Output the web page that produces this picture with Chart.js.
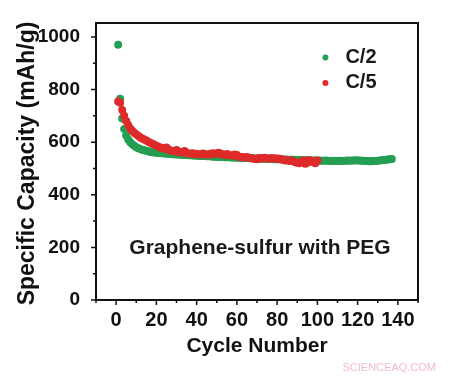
<!DOCTYPE html>
<html>
<head>
<meta charset="utf-8">
<script src="https://cdn.jsdelivr.net/npm/chart.js@4"></script>
<style>
  html, body { margin: 0; padding: 0; background: #fff; }
  #wrap { width: 452px; height: 377px; position: relative; }
</style>
</head>
<body>
<div id="wrap"><canvas id="capacity_chart"></canvas></div>
<script>
// capacity (mAh/g) per cycle, cycle 1 first
const c2_values = [
  970, 765, 690, 650, 625, 610, 600, 592, 586, 581,
  577, 574, 571, 569, 567, 565, 563, 562, 561, 560,
  559, 558, 558, 557, 556, 556, 555, 554, 554, 553,
  553, 552, 552, 551, 551, 550, 550, 549, 549, 548,
  548, 547, 547, 547, 546, 546, 546, 545, 545, 545,
  544, 544, 544, 543, 543, 543, 542, 542, 542, 541,
  541, 541, 540, 540, 540, 539, 539, 539, 538, 538,
  538, 537, 537, 537, 536, 536, 536, 535, 535, 535,
  535, 534, 534, 534, 533, 533, 533, 533, 532, 532,
  532, 532, 531, 531, 531, 531, 530, 530, 530, 530,
  530, 529, 529, 530, 529, 529, 528, 529, 528, 528,
  529, 528, 528, 529, 530, 529, 530, 530, 531, 530,
  530, 529, 529, 528, 528, 527, 527, 528, 528, 529,
  530, 531, 532, 533, 534, 535, 536
];
const c5_values = [
  755, 750, 722, 700, 680, 665, 652, 643, 636, 630,
  624, 618, 614, 610, 606, 602, 598, 594, 590, 586,
  583, 580, 577, 575, 580, 572, 568, 566, 565, 570,
  564, 562, 560, 566, 560, 557, 556, 558, 555, 556,
  554, 553, 557, 555, 552, 553, 556, 558, 554, 558,
  560, 556, 553, 551, 555, 552, 549, 548, 553, 551,
  545, 544, 543, 542, 544, 541, 540, 538, 536, 535,
  540, 538, 540, 541, 538, 537, 540, 538, 539, 536,
  538, 535, 533, 530, 532, 528, 530, 527, 524, 522,
  520, 526, 530, 518, 522, 532, 528, 524, 520, 530
];
const series_names = ['C/2', 'C/5'];
const series_colors = ['rgb(36, 158, 82)', 'rgb(222, 42, 42)'];
const x_ticks = [0, 20, 40, 60, 80, 100, 120, 140];
const y_ticks = [0, 200, 400, 600, 800, 1000];
const note_text = 'Graphene-sulfur with PEG';
const x_title = 'Cycle Number';
const y_title = 'Specific Capacity (mAh/g)';

const to_points = (vals) => vals.map((v, i) => ({ x: i + 1, y: v }));

const FAMILY = '"Liberation Sans", Arial, sans-serif';
const bold = (size) => `bold ${size}px ${FAMILY}`;

// frame, outward ticks (major + minor), titles, legend, note
const decorations = {
  id: 'decorations',
  afterDraw(chart) {
    const ctx = chart.ctx;
    const area = chart.chartArea;
    const xs = chart.scales.x;
    const ys = chart.scales.y;
    ctx.save();
    ctx.strokeStyle = '#111';
    ctx.lineWidth = 2;
    ctx.strokeRect(area.left, area.top, area.right - area.left, area.bottom - area.top);

    ctx.lineWidth = 1.5;
    ctx.beginPath();
    for (let v = -10; v <= 150; v += 10) {
      const px = xs.getPixelForValue(v);
      const len = (v % 20 === 0) ? 5 : 3;
      ctx.moveTo(px, area.bottom);
      ctx.lineTo(px, area.bottom + len);
    }
    for (let v = 0; v <= 1000; v += 100) {
      const py = ys.getPixelForValue(v);
      const len = (v % 200 === 0) ? 5 : 3;
      ctx.moveTo(area.left, py);
      ctx.lineTo(area.left - len, py);
    }
    ctx.stroke();

    ctx.fillStyle = '#111';
    ctx.textBaseline = 'middle';
    ctx.textAlign = 'center';

    // axis titles
    ctx.font = bold(21);
    ctx.fillText(x_title, (area.left + area.right) / 2, 346);
    ctx.save();
    ctx.translate(28, (area.top + area.bottom) / 2 + 2);
    ctx.rotate(-Math.PI / 2);
    ctx.font = bold(23);
    ctx.fillText(y_title, 0, 0);
    ctx.restore();

    // legend
    const lx = xs.getPixelForValue(104);
    ctx.font = bold(20);
    ctx.textAlign = 'left';
    series_names.forEach((name, i) => {
      const ly = ys.getPixelForValue(922 - i * 97);
      ctx.fillStyle = series_colors[i];
      ctx.beginPath();
      ctx.arc(lx, ly, 3, 0, Math.PI * 2);
      ctx.fill();
      ctx.fillStyle = '#1a1a1a';
      ctx.fillText(name, lx + 20, ly);
    });

    // note
    ctx.font = bold(21);
    ctx.textAlign = 'center';
    ctx.fillText(note_text, xs.getPixelForValue(71.5), ys.getPixelForValue(198));

    // watermark
    ctx.font = '11px ' + FAMILY;
    ctx.fillStyle = 'rgba(235, 160, 170, 0.7)';
    ctx.textAlign = 'right';
    ctx.fillText('SCIENCEAQ.COM', 436, 368);
    ctx.restore();
  }
};

const config = {
  type: 'scatter',
  data: {
    datasets: [
      {
        label: series_names[0],
        data: to_points(c2_values),
        backgroundColor: series_colors[0],
        borderWidth: 0,
        pointRadius: 4,
        order: 1
      },
      {
        label: series_names[1],
        data: to_points(c5_values),
        backgroundColor: series_colors[1],
        borderWidth: 0,
        pointRadius: 4,
        order: 0
      }
    ]
  },
  options: {
    responsive: true,
    maintainAspectRatio: false,
    animation: false,
    layout: {
      padding: { left: 0, right: 34, top: 23, bottom: 0 }
    },
    plugins: {
      legend: { display: false },
      tooltip: { enabled: false }
    },
    scales: {
      x: {
        type: 'linear',
        min: -10,
        max: 150,
        afterBuildTicks: (scale) => {
          scale.ticks = x_ticks.map((v) => ({ value: v }));
        },
        afterFit: (scale) => { scale.height = 77; },
        grid: { display: false },
        border: { display: false },
        ticks: {
          color: '#111',
          font: { family: FAMILY, size: 20, weight: 'bold' },
          padding: 0,
          maxRotation: 0,
          callback: (v) => String(v)
        }
      },
      y: {
        type: 'linear',
        min: 0,
        max: 1053,
        afterBuildTicks: (scale) => {
          scale.ticks = y_ticks.map((v) => ({ value: v }));
        },
        afterFit: (scale) => { scale.width = 96; },
        grid: { display: false },
        border: { display: false },
        ticks: {
          color: '#111',
          font: { family: FAMILY, size: 19, weight: 'bold' },
          padding: 8,
          callback: (v) => String(v)
        }
      }
    }
  },
  plugins: [decorations]
};

new Chart(document.getElementById('capacity_chart'), config);
</script>
</body>
</html>
